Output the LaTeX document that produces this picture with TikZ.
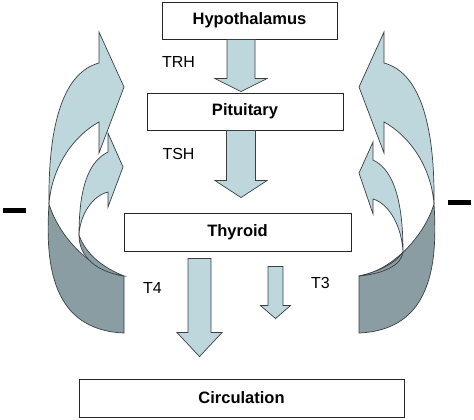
\documentclass[tikz,border=0pt]{standalone}
\usepackage{fontspec}
\setmainfont{Liberation Sans}
\usetikzlibrary{calc}
\definecolor{arrlight}{HTML}{BDD7DD}
\definecolor{arrdark}{HTML}{8A9DA3}
\definecolor{edgec}{HTML}{3A3F42}
\newcommand\blockarr[5]{%
  \path[lightarr] let \p1=(#1), \p2=(#2) in
   (\x2-#3pt,\y1) -- (\x2+#3pt,\y1) -- (\x2+#3pt,\y2+#5pt) -- (\x2+#4pt,\y2+#5pt)
   -- (\x2,\y2) -- (\x2-#4pt,\y2+#5pt) -- (\x2-#3pt,\y2+#5pt) -- cycle;}
\begin{document}
\begin{tikzpicture}[x=1pt,y=-1pt,
  box/.style={draw=black!85, line width=0.9pt, fill=white, inner sep=0pt,
    font=\fontsize{16.5}{18}\selectfont\bfseries},
  lbl/.style={inner sep=0pt, font=\fontsize{16}{18}\selectfont},
  lightarr/.style={fill=arrlight, draw=edgec, line width=0.7pt, line join=miter},
  darkarr/.style={fill=arrdark, draw=edgec, line width=0.7pt, line join=miter},
  minusbar/.style={fill=black, inner sep=0pt, minimum width=23pt, minimum height=5pt}]
\useasboundingbox (0,0) rectangle (474,420);

% boxes
\node[box, minimum width=175pt, minimum height=37pt] (hyp) at (249.5,20.5) {Hypothalamus};
\node[box, minimum width=196pt, minimum height=37pt] (pit) at (245,111.5) {Pituitary};
\node[box, minimum width=227pt, minimum height=38pt] (thy) at (237.5,232) {Thyroid};
\node[box, minimum width=325pt, minimum height=38pt] (cir) at (241.5,398) {Circulation};

% straight block arrows
\coordinate (trhA) at ($(hyp.south)+(-8.5,0)$);
\coordinate (trhB) at ($(pit.north)+(-4,-1)$);
\coordinate (tshA) at ($(pit.south)+(-3.5,0)$);
\coordinate (tshB) at ($(thy.north)+(3.5,-15)$);
\coordinate (t4A) at ($(thy.south)+(-38,7)$);
\coordinate (t4B) at ($(cir.north)+(-42,-22)$);
\coordinate (t3A) at ($(thy.south)+(38,15)$);
\coordinate (t3B) at ($(cir.north)+(34,-60)$);
\blockarr{trhA}{trhB}{14}{26}{13}
\blockarr{tshA}{tshB}{14.5}{26}{17}
\blockarr{t4A}{t4B}{11.5}{22.5}{24}
\blockarr{t3A}{t3B}{7.5}{15}{13}

% labels
\node[lbl] (trh) at (178.5,62) {TRH};
\node[lbl] (tsh) at (178.5,154) {TSH};
\node[lbl] (t4) at (152.5,288) {T4};
\node[lbl] (t3) at (320.5,283) {T3};

% curved feedback arrows (left)
\begin{scope}
  \path[lightarr] (99,63) .. controls (65,72) and (48,120) .. (49,204)
    .. controls (52,165) and (75,135) .. (99,122) -- (99,153) -- (124,87) -- (99,32) -- cycle;
  \path[darkarr] (49,204) .. controls (45,265) and (52,330) .. (124,333) -- (124,276)
    .. controls (95,272) and (60,240) .. (49,204) -- cycle;
  \path[lightarr] (108,152) .. controls (92,160) and (79,180) .. (79,235)
    .. controls (80,215) and (92,196) .. (108,192) -- (108,207) -- (123,167) -- (108,133) -- cycle;
  \path[darkarr] (79,235) .. controls (79,258) and (98,272) .. (124,276)
    .. controls (104,268) and (86,255) .. (79,235) -- cycle;
\end{scope}
% curved feedback arrows (right, mirrored)
\begin{scope}[xshift=483pt, xscale=-1]
  \path[lightarr] (99,63) .. controls (65,72) and (48,120) .. (49,204)
    .. controls (52,165) and (75,135) .. (99,122) -- (99,153) -- (124,87) -- (99,32) -- cycle;
  \path[darkarr] (49,204) .. controls (45,265) and (52,330) .. (124,333) -- (124,276)
    .. controls (95,272) and (60,240) .. (49,204) -- cycle;
  \path[lightarr] (110,160) .. controls (93,168) and (80,192) .. (80,252)
    .. controls (81,228) and (93,204) .. (110,199) -- (110,214) -- (124,173) -- (110,142) -- cycle;
  \path[darkarr] (80,252) .. controls (81,265) and (100,274) .. (124,276)
    .. controls (106,272) and (88,264) .. (80,252) -- cycle;
\end{scope}

% minus signs
\node[minusbar] (minusL) at (14.5,210) {};
\node[minusbar] (minusR) at (459.5,202.5) {};
\end{tikzpicture}
\end{document}
